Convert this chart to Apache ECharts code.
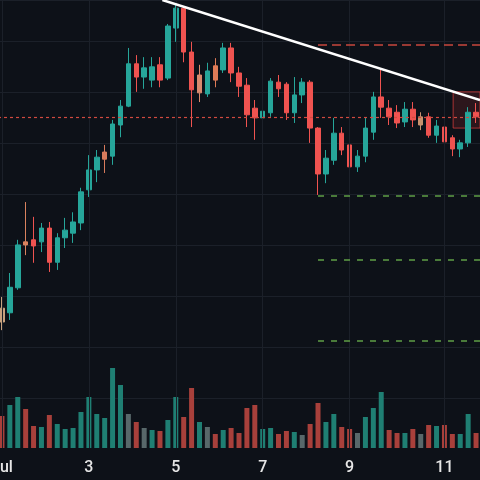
<!DOCTYPE html>
<html>
<head>
<meta charset="utf-8">
<script src="https://cdn.jsdelivr.net/npm/echarts@6/dist/echarts.min.js"></script>
<style>
html,body{margin:0;padding:0;background:#0d1118;}
#echarts{width:480px;height:480px;}
</style>
</head>
<body>
<div id="echarts"></div>
<script>
// candles, left to right
var opens  = [14.9,16.7,21.6,30.0,31.0,30.6,33.3,26.6,31.4,32.3, 34.3,40.8,44.7,48.2,47.4,53.5,57.2,65.5,62.9,62.3,
              65.3,62.7,72.5,76.4,67.8,63.3,59.6,65.1,64.3,68.6, 63.7,61.3,56.8,54.9,55.9,61.9,61.5,55.9,59.4,61.9,
              52.9,43.9,46.6,51.9,49.6,45.3,47.4,52.1,59.0,56.8, 56.0,54.1,56.6,55.1,55.1,51.5,53.1,51.0,48.8,50.0, 56.0];
var closes = [17.6,21.7,30.0,30.6,29.8,33.3,26.6,31.4,32.9,34.5, 40.4,44.7,47.2,46.8,53.7,57.2,65.5,62.9,64.7,64.9,
              62.3,72.9,76.4,67.8,60.4,59.8,64.1,62.3,68.6,63.7, 61.1,55.5,54.9,56.2,62.1,60.6,55.9,59.4,61.9,52.9,
              43.9,47.0,51.9,48.6,45.3,47.4,52.9,59.0,57.0,55.1, 53.9,56.6,54.5,53.5,51.5,53.3,50.2,48.8,50.0,56.0, 55.1];
var lows   = [13.3,15.3,21.2,28.0,26.5,28.6,24.7,25.1,29.4,30.4, 32.9,39.4,42.3,44.1,45.7,51.1,57.0,60.0,60.6,60.9,
              60.9,62.3,69.8,65.8,53.1,58.0,59.0,60.9,63.7,61.9, 59.0,53.1,50.6,53.5,55.1,59.0,54.5,53.9,57.8,50.0,
              39.8,42.1,45.7,47.6,44.3,44.3,46.2,50.6,54.9,53.5, 52.9,53.1,53.1,52.5,51.0,50.0,49.2,47.4,47.2,49.2, 53.9];
var highs  = [19.8,24.5,31.0,38.4,35.5,34.3,34.5,32.3,35.3,36.4, 41.2,47.6,48.6,49.6,54.5,58.4,68.6,67.2,66.8,66.8,
              66.8,73.3,77.2,76.6,69.8,65.3,65.7,66.6,69.6,69.6, 64.9,62.7,58.4,58.0,62.7,63.3,61.9,62.9,62.7,62.3,
              53.1,48.6,54.9,53.1,50.6,48.6,54.9,60.0,64.3,58.4, 57.4,58.0,58.0,56.0,55.9,54.5,54.1,51.5,50.6,57.0, 57.8];

// volume bars, 1 = up, -1 = down, 0 = flat
var volumes = [32,43,51,39,22,21,33,24,19,20, 36,51,34,30,80,63,34,26,20,18,
               17,28,51,31,60,26,21,14,18,20, 15,40,43,19,20,14,17,16,13,24,
               45,26,34,21,19,15,31,40,56,18, 15,15,19,14,23,22,23,14,14,34, 15];
var volDir  = [-1,1,1,-1,-1,1,-1,1,1,1, 1,1,1,1,1,1,0,-1,0,1,
               -1,1,1,-1,-1,1,0,-1,1,-1, -1,-1,-1,1,1,-1,-1,1,0,-1,
               -1,1,1,-1,-1,0,1,1,1,-1, -1,1,-1,0,-1,1,-1,-1,1,1, -1];

var tickLabels = ['Jul','3','5','7','9','11'];
var tickIndex  = [0,11,22,33,44,56];

// drawings on the chart (candle index, price)
var trendLine   = [[20.3,78.0],[60.5,58.4]];
var resistance  = [69.2];
var supports    = [39.6,27.0,11.2];
var midLevel    = 55.1;
var levelStart  = 40;
var zoneBox     = [[57.1,60.0],[60.5,52.9]];

var UP = '#26a69a', DOWN = '#ef5350';
var tint = {0:'#c9a27e',3:'#d9825e',13:'#d77b5c',25:'#d98a6e',27:'#df7b57',53:'#c8926e'};
var volColor = {'1':'#1f7f73','-1':'#a8403b','0':'#58686a'};

var candleNo = [];
var candles = [];
for(var i=0;i<opens.length;i++){
    candleNo.push(String(i+1));
    var item = {value:[opens[i],closes[i],lows[i],highs[i]]};
    if(tint[i]){
        item.itemStyle = {color:tint[i],color0:tint[i],borderColor:tint[i],borderColor0:tint[i]};
    }
    candles.push(item);
}
var vols = volumes.map(function(v,i){
    return {value:v,itemStyle:{color:volColor[String(volDir[i])]}};
});

var gridLine = '#1b2029';
var vLines = tickIndex.map(function(t){ return {xAxis:t}; });

var levelLines = [];
resistance.forEach(function(p){
    levelLines.push([{coord:[levelStart,p],lineStyle:{color:'#c8473d',width:1.5,type:[9,5]}},{coord:[60.5,p]}]);
});
supports.forEach(function(p){
    levelLines.push([{coord:[levelStart,p],lineStyle:{color:'#5f9e45',width:1.5,type:[6,7]}},{coord:[60.5,p]}]);
});
levelLines.push([{coord:[-0.5,midLevel],lineStyle:{color:'#d04a40',width:1.2,type:[3,3]}},{coord:[60.5,midLevel]}]);

var option = {
    backgroundColor:'#0d1118',
    animation:false,
    grid:[
        {left:-2,width:482,top:0,height:398,outerBoundsMode:'none'},
        {left:-2,width:482,top:360,height:88,outerBoundsMode:'none'}
    ],
    xAxis:[
        {type:'category',gridIndex:0,data:candleNo,boundaryGap:true,
         axisLine:{show:false},axisTick:{show:false},axisLabel:{show:false},splitLine:{show:false}},
        {type:'value',gridIndex:0,min:-0.5,max:60.5,show:false},
        {type:'category',gridIndex:1,data:candleNo,boundaryGap:true,
         axisLine:{show:false},axisTick:{show:false},splitLine:{show:false},
         axisLabel:{
            color:'#e6e6e6',fontSize:16,fontFamily:'Roboto',fontWeight:500,margin:12,
            hideOverlap:false,
            interval:function(idx){ return tickIndex.indexOf(idx) >= 0; },
            formatter:function(v,idx){ var k = tickIndex.indexOf(idx); return k>=0 ? tickLabels[k] : ''; }
         }}
    ],
    yAxis:[
        {type:'value',gridIndex:0,min:0,max:78,interval:10,position:'right',
         axisLine:{show:false},axisTick:{show:false},axisLabel:{show:false},
         splitLine:{show:true,lineStyle:{color:gridLine,width:1}}},
        {type:'value',gridIndex:1,min:0,max:88,show:false,splitLine:{show:false}}
    ],
    series:[
        {
            type:'candlestick',
            xAxisIndex:0,yAxisIndex:0,
            barWidth:5,
            data:candles,
            itemStyle:{color:UP,color0:DOWN,borderColor:UP,borderColor0:DOWN,borderWidth:1},
            markLine:{
                silent:true,symbol:['none','none'],label:{show:false},
                lineStyle:{color:gridLine,width:1,type:'solid'},
                data:vLines
            }
        },
        {
            type:'bar',
            xAxisIndex:2,yAxisIndex:1,
            barWidth:5,
            data:vols,
            markLine:{
                silent:true,symbol:['none','none'],label:{show:false},
                lineStyle:{color:gridLine,width:1,type:'solid'},
                data:vLines
            }
        },
        {
            type:'line',
            xAxisIndex:1,yAxisIndex:0,
            data:trendLine,
            symbol:'none',
            clip:false,
            z:5,
            lineStyle:{color:'#ffffff',width:2.5},
            markLine:{
                silent:true,symbol:['none','none'],label:{show:false},
                data:levelLines
            },
            markArea:{
                silent:true,
                itemStyle:{color:'rgba(190,50,50,0.18)',borderColor:'rgba(215,60,60,0.75)',borderWidth:1},
                data:[[{coord:zoneBox[0]},{coord:zoneBox[1]}]]
            }
        }
    ]
};

var myChart = echarts.init(document.getElementById('echarts'));
myChart.setOption(option);
</script>
</body>
</html>
